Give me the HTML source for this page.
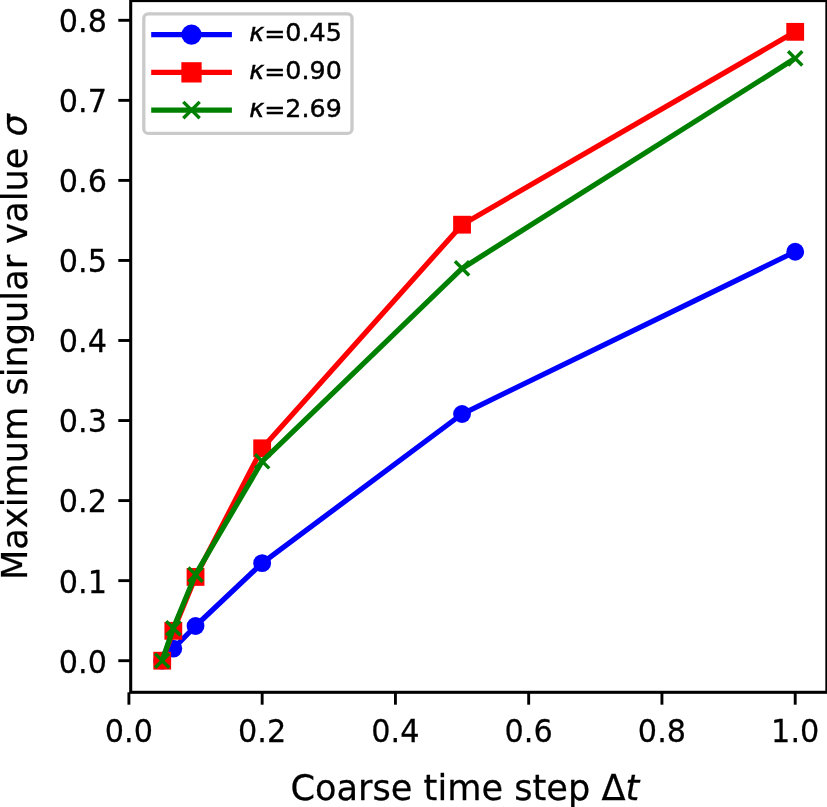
<!DOCTYPE html>
<html lang="en"><head><meta charset="utf-8"><title>Maximum singular value vs coarse time step</title>
<style>html,body{margin:0;padding:0;background:#fff}body{width:827px;height:807px;overflow:hidden}svg{display:block}text{font-family:"DejaVu Sans","Liberation Sans",sans-serif;fill:#000}.i{font-style:italic}</style></head><body>
<svg width="827" height="807" viewBox="0 0 827 807">
<rect width="827" height="807" fill="#fff"/>
<g stroke="#000" stroke-width="2.9" fill="none">
<line x1="128.90" y1="692.30" x2="128.90" y2="704.70"/>
<line x1="262.16" y1="692.30" x2="262.16" y2="704.70"/>
<line x1="395.42" y1="692.30" x2="395.42" y2="704.70"/>
<line x1="528.68" y1="692.30" x2="528.68" y2="704.70"/>
<line x1="661.94" y1="692.30" x2="661.94" y2="704.70"/>
<line x1="795.20" y1="692.30" x2="795.20" y2="704.70"/>
<line x1="130.70" y1="660.70" x2="118.30" y2="660.70"/>
<line x1="130.70" y1="580.65" x2="118.30" y2="580.65"/>
<line x1="130.70" y1="500.60" x2="118.30" y2="500.60"/>
<line x1="130.70" y1="420.55" x2="118.30" y2="420.55"/>
<line x1="130.70" y1="340.50" x2="118.30" y2="340.50"/>
<line x1="130.70" y1="260.45" x2="118.30" y2="260.45"/>
<line x1="130.70" y1="180.40" x2="118.30" y2="180.40"/>
<line x1="130.70" y1="100.35" x2="118.30" y2="100.35"/>
<line x1="130.70" y1="20.30" x2="118.30" y2="20.30"/>
</g>
<g font-size="30.3" stroke="#000" stroke-width="0.25">
<text transform="translate(128.90 742.4) scale(1 1.055)" text-anchor="middle">0.0</text>
<text transform="translate(262.16 742.4) scale(1 1.055)" text-anchor="middle">0.2</text>
<text transform="translate(395.42 742.4) scale(1 1.055)" text-anchor="middle">0.4</text>
<text transform="translate(528.68 742.4) scale(1 1.055)" text-anchor="middle">0.6</text>
<text transform="translate(661.94 742.4) scale(1 1.055)" text-anchor="middle">0.8</text>
<text transform="translate(795.20 742.4) scale(1 1.055)" text-anchor="middle">1.0</text>
<text transform="translate(107.0 672.55) scale(1 1.055)" text-anchor="end">0.0</text>
<text transform="translate(107.0 592.50) scale(1 1.055)" text-anchor="end">0.1</text>
<text transform="translate(107.0 512.45) scale(1 1.055)" text-anchor="end">0.2</text>
<text transform="translate(107.0 432.40) scale(1 1.055)" text-anchor="end">0.3</text>
<text transform="translate(107.0 352.35) scale(1 1.055)" text-anchor="end">0.4</text>
<text transform="translate(107.0 272.30) scale(1 1.055)" text-anchor="end">0.5</text>
<text transform="translate(107.0 192.25) scale(1 1.055)" text-anchor="end">0.6</text>
<text transform="translate(107.0 112.20) scale(1 1.055)" text-anchor="end">0.7</text>
<text transform="translate(107.0 32.15) scale(1 1.055)" text-anchor="end">0.8</text>
</g>
<polyline points="162.22,660.70 173.32,648.61 195.53,626.02 262.16,563.15 462.05,414.02 795.20,251.76" fill="none" stroke="#0000ff" stroke-width="5.25" stroke-linejoin="round" stroke-linecap="butt"/>
<circle cx="162.22" cy="660.70" r="8.90" fill="#0000ff"/>
<circle cx="173.32" cy="648.61" r="8.90" fill="#0000ff"/>
<circle cx="195.53" cy="626.02" r="8.90" fill="#0000ff"/>
<circle cx="262.16" cy="563.15" r="8.90" fill="#0000ff"/>
<circle cx="462.05" cy="414.02" r="8.90" fill="#0000ff"/>
<circle cx="795.20" cy="251.76" r="8.90" fill="#0000ff"/>
<polyline points="162.22,660.70 173.32,630.83 195.53,576.93 262.16,448.30 462.05,224.69 795.20,31.83" fill="none" stroke="#ff0000" stroke-width="5.25" stroke-linejoin="round" stroke-linecap="butt"/>
<rect x="153.31" y="651.80" width="17.80" height="17.80" fill="#ff0000"/>
<rect x="164.42" y="621.93" width="17.80" height="17.80" fill="#ff0000"/>
<rect x="186.63" y="568.03" width="17.80" height="17.80" fill="#ff0000"/>
<rect x="253.26" y="439.40" width="17.80" height="17.80" fill="#ff0000"/>
<rect x="453.15" y="215.79" width="17.80" height="17.80" fill="#ff0000"/>
<rect x="786.30" y="22.93" width="17.80" height="17.80" fill="#ff0000"/>
<polyline points="162.22,660.70 173.32,628.18 195.53,574.60 262.16,461.28 462.05,268.42 795.20,58.34" fill="none" stroke="#008000" stroke-width="5.25" stroke-linejoin="round" stroke-linecap="butt"/>
<path d="M155.12 653.60L169.31 667.80M155.12 667.80L169.31 653.60" stroke="#008000" stroke-width="3.4" fill="none"/>
<path d="M166.22 621.08L180.42 635.28M166.22 635.28L180.42 621.08" stroke="#008000" stroke-width="3.4" fill="none"/>
<path d="M188.43 567.50L202.63 581.70M188.43 581.70L202.63 567.50" stroke="#008000" stroke-width="3.4" fill="none"/>
<path d="M255.06 454.18L269.26 468.38M255.06 468.38L269.26 454.18" stroke="#008000" stroke-width="3.4" fill="none"/>
<path d="M454.95 261.32L469.15 275.52M454.95 275.52L469.15 261.32" stroke="#008000" stroke-width="3.4" fill="none"/>
<path d="M788.10 51.24L802.30 65.44M788.10 65.44L802.30 51.24" stroke="#008000" stroke-width="3.4" fill="none"/>
<rect x="130.70" y="0.60" width="696.15" height="691.70" fill="none" stroke="#000" stroke-width="3.05"/>
<rect x="143.8" y="13.8" width="208.2" height="119.6" rx="4.5" ry="4.5" fill="#fff" fill-opacity="0.8" stroke="#cacaca" stroke-width="3.3"/>
<line x1="151.2" y1="34.6" x2="231.9" y2="34.6" stroke="#0000ff" stroke-width="5.25"/>
<circle cx="191.50" cy="34.60" r="10.15" fill="#0000ff"/>
<text transform="translate(249.2 41.15) scale(1 0.975)" font-size="25.35" stroke="#000" stroke-width="0.45"><tspan class="i">κ</tspan><tspan dy="0.9">=</tspan><tspan dy="-0.9">0.45</tspan></text>
<line x1="151.2" y1="72.35" x2="231.9" y2="72.35" stroke="#ff0000" stroke-width="5.25"/>
<rect x="181.35" y="62.20" width="20.30" height="20.30" fill="#ff0000"/>
<text transform="translate(249.2 78.90) scale(1 0.975)" font-size="25.35" stroke="#000" stroke-width="0.45"><tspan class="i">κ</tspan><tspan dy="0.9">=</tspan><tspan dy="-0.9">0.90</tspan></text>
<line x1="151.2" y1="110.1" x2="231.9" y2="110.1" stroke="#008000" stroke-width="5.25"/>
<path d="M183.30 101.90L199.70 118.30M183.30 118.30L199.70 101.90" stroke="#008000" stroke-width="3.4" fill="none"/>
<text transform="translate(249.2 116.65) scale(1 0.975)" font-size="25.35" stroke="#000" stroke-width="0.45"><tspan class="i">κ</tspan><tspan dy="0.9">=</tspan><tspan dy="-0.9">2.69</tspan></text>
<text transform="translate(290.4 799.8) scale(1 1.012)" font-size="35.18" stroke="#000" stroke-width="0.25">Coarse time step Δ<tspan class="i">t</tspan></text>
<text transform="translate(27.3 580.05) rotate(-90) scale(1 1.012)" font-size="35.18" stroke="#000" stroke-width="0.25">Maximum singular value <tspan class="i">σ</tspan></text>
</svg></body></html>
